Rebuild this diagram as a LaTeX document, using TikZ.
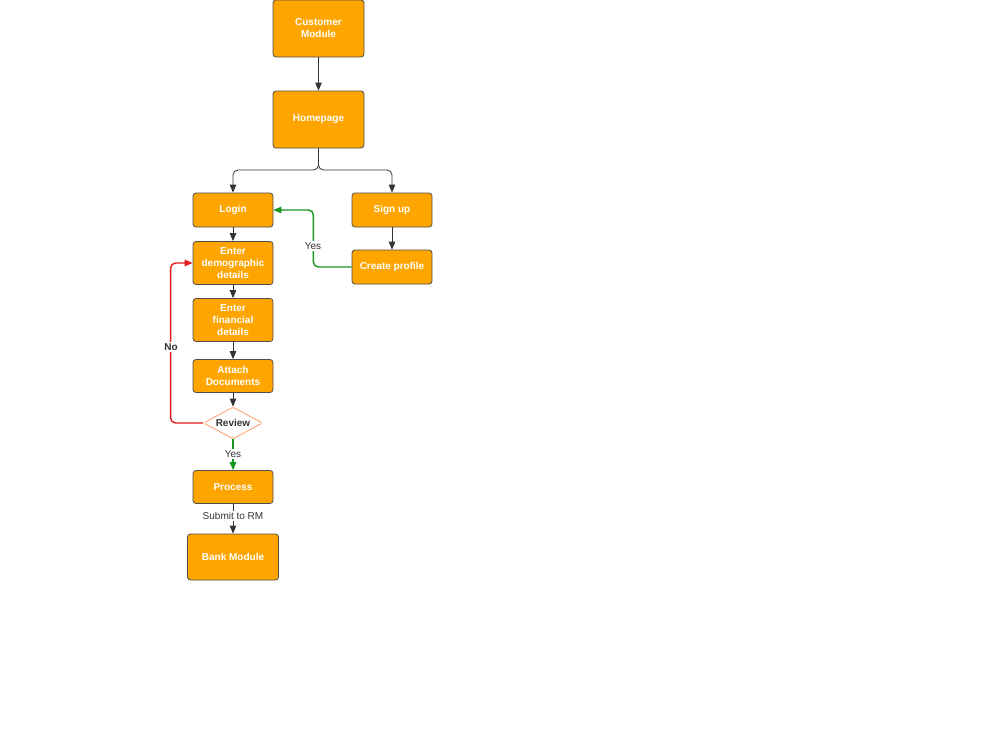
\documentclass[tikz,border=0pt]{standalone}
\usepackage{fontspec}
\setmainfont{Liberation Sans}
\usetikzlibrary{arrows.meta,shapes.geometric}
\definecolor{boxfill}{HTML}{FFA500}
\definecolor{boxline}{HTML}{4D4D4D}
\definecolor{lineg}{HTML}{333333}
\definecolor{okgreen}{HTML}{16951F}
\definecolor{nored}{HTML}{E61A1A}
\definecolor{revline}{HTML}{FF9E66}
\tikzset{
  box/.style={draw=boxline,fill=boxfill,line width=.8pt,rounded corners=3pt,
    text=white,font=\fontsize{10}{12}\selectfont\bfseries,align=center,
    inner sep=0pt,minimum width=80pt,minimum height=34pt},
  bigbox/.style={box,minimum width=91pt,minimum height=57pt},
  conn/.style={draw=lineg,line width=.8pt,-{Triangle[length=8pt,width=6.5pt]}},
  yesconn/.style={conn,draw=okgreen,line width=1.4pt,-{Triangle[length=8pt,width=6.5pt,fill=okgreen]}},
  noconn/.style={conn,draw=nored,line width=1.4pt,-{Triangle[length=8pt,width=6.5pt,fill=nored]}},
  lbl/.style={fill=white,inner sep=1.5pt,text=lineg,font=\fontsize{10}{12}\selectfont}
}
\begin{document}
\begin{tikzpicture}[x=1pt,y=-1pt]
      \useasboundingbox[fill=white] (0,0) rectangle (1000,750);
      \node[bigbox] (cust) at (318.5,28.5) {Customer\\Module};
      \node[bigbox] (home) at (318.5,119.5) {Homepage};
      \node[box] (login) at (233,210) {Login};
      \node[box] (signup) at (392,210) {Sign up};
      \node[box] (profile) at (392,267) {Create profile};
      \node[box,minimum height=43pt] (demo) at (233,263) {Enter\\demographic\\details};
      \node[box,minimum height=43pt] (fin) at (233,320) {Enter\\financial\\details};
      \node[box,minimum height=33pt] (docs) at (233,376) {Attach\\Documents};
      \node[diamond,draw=revline,fill=white,line width=.8pt,rounded corners=1.5pt,
        inner sep=0pt,minimum width=59pt,minimum height=32pt,text=lineg,
        font=\fontsize{10}{12}\selectfont\bfseries] (review) at (233,423) {\makebox[0pt]{Review}};
      \node[box,minimum height=33pt] (proc) at (233,487) {Process};
      \node[box,minimum width=91pt,minimum height=46pt] (bank) at (233,557) {Bank Module};
      \coordinate (split) at (318.5,170);

      \draw[conn] (cust) -- (home);
      \draw[conn,rounded corners=5pt] (home.south) -- (split) -| (login.north);
      \draw[conn,rounded corners=5pt] (home.south) -- (split) -| (signup.north);
      \draw[conn] (login) -- (demo);
      \draw[conn] (signup) -- (profile);
      \draw[yesconn,rounded corners=5pt]
        (profile.west) -| ([xshift=40pt]login.east) -- (login.east);
      \node[lbl] (yes1) at (313,246) {Yes};
      \draw[conn] (demo) -- (fin);
      \draw[conn] (fin) -- (docs);
      \draw[conn] (docs) -- (review);
      \draw[noconn,rounded corners=5pt]
        (review.west) -| ([xshift=-22pt]demo.west) -- (demo.west);
      \node[lbl,font=\fontsize{10}{12}\selectfont\bfseries] (no) at (171,347) {No};
      \draw[yesconn] (review) -- (proc);
      \node[lbl] (yes2) at (233,454) {Yes};
      \draw[conn] (proc) -- (bank);
      \node[lbl] (submit) at (233,516) {Submit to RM};
    \end{tikzpicture}
\end{document}
